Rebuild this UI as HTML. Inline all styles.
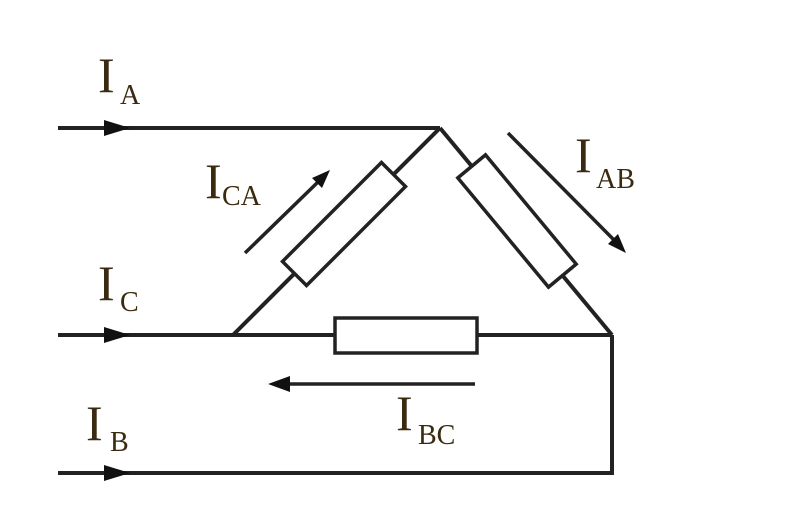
<!DOCTYPE html>
<html><head><meta charset="utf-8"><style>
html,body{margin:0;padding:0;background:#fff;width:800px;height:520px;overflow:hidden}
text{font-family:"Liberation Serif",serif;fill:#3a2a10}
</style></head><body>
<svg width="800" height="520" viewBox="0 0 800 520" xmlns="http://www.w3.org/2000/svg">
<g stroke="#222" stroke-width="4" fill="none" stroke-linecap="butt">
  <line x1="58" y1="128" x2="440" y2="128"/>
  <line x1="58" y1="335" x2="612" y2="335"/>
  <line x1="58" y1="473" x2="614" y2="473"/>
  <line x1="612" y1="335" x2="612" y2="475"/>
  <line x1="233" y1="335" x2="440" y2="128"/>
  <line x1="440" y1="128" x2="612" y2="335"/>
</g>
<!-- resistors -->
<g stroke="#222" stroke-width="3.5" fill="#fff">
  <rect x="335" y="318" width="142" height="35"/>
  <rect x="-70" y="-17" width="140" height="34" transform="translate(344,224) rotate(-45)"/>
  <rect x="-71" y="-18" width="142" height="36" transform="translate(517,221) rotate(50.3)"/>
</g>
<!-- current arrows -->
<g stroke="#222" stroke-width="3.5" fill="none">
  <line x1="245" y1="253" x2="318" y2="182"/>
  <line x1="508" y1="133" x2="615" y2="241"/>
  <line x1="475" y1="384" x2="285" y2="384"/>
</g>
<g fill="#111">
  <polygon points="330,170 312,178 322,188"/>
  <polygon points="626,253 608,244 618,234"/>
  <polygon points="268,384 290,376 290,392"/>
  <polygon points="130,128 104,120 104,136"/>
  <polygon points="130,335 104,327 104,343"/>
  <polygon points="130,473 104,465 104,481"/>
</g>
<!-- labels -->
<text x="98" y="92" font-size="50">I</text><text x="120" y="104" font-size="28" fill="#4a4a7a">A</text>
<text x="205" y="198" font-size="50">I</text><text x="222" y="205" font-size="28" fill="#4a4a7a">CA</text>
<text x="98" y="300" font-size="50">I</text><text x="120" y="311" font-size="28" fill="#4a4a7a">C</text>
<text x="86" y="440" font-size="50">I</text><text x="110" y="451" font-size="28" fill="#4a4a7a">B</text>
<text x="575" y="172" font-size="50">I</text><text x="596" y="188" font-size="28" fill="#4a4a7a">AB</text>
<text x="396" y="430" font-size="50">I</text><text x="418" y="444" font-size="28" fill="#4a4a7a">BC</text>
</svg>
</body></html>
